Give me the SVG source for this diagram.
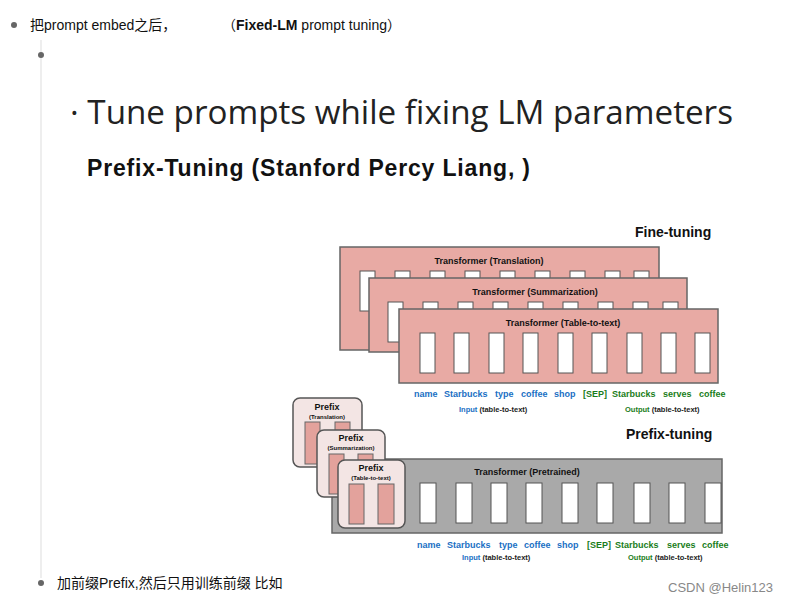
<svg xmlns="http://www.w3.org/2000/svg" width="804" height="602" viewBox="0 0 804 602">
<style>
.t{font-family:"Liberation Sans",Arial,sans-serif}
.cj{font-family:"Liberation Sans","Noto Sans CJK SC",sans-serif;font-size:14px;fill:#111}
.tb{fill:#e8aaa4;stroke:#666;stroke-width:1.5}
.sl{fill:#fff;stroke:#555;stroke-width:1}
.h{font-family:"Liberation Sans",Arial,sans-serif;font-weight:bold;font-size:9px;fill:#111;text-anchor:middle}
.s{font-size:6px}
.w{font-family:"Liberation Sans",Arial,sans-serif;font-weight:bold;font-size:9px}
.b{fill:#1a6fc4}.g{fill:#1a7d1a}
.px{fill:#f3e5e4;stroke:#555;stroke-width:1.5}
.pb{fill:#e3a29c;stroke:#666;stroke-width:1}
</style>
<rect width="804" height="602" fill="#fff"/>
<line x1="41" y1="40" x2="41" y2="578" stroke="#ddd" stroke-width="1"/>
<circle cx="14" cy="25" r="3" fill="#666"/>
<text class="cj" x="30" y="30">把prompt embed之后，</text>
<text class="cj" x="222" y="30">（<tspan font-weight="bold">Fixed-LM</tspan> prompt tuning）</text>
<circle cx="41" cy="55" r="3" fill="#666"/>
<circle cx="41" cy="583" r="3" fill="#666"/>
<text class="cj" x="57" y="588">加前缀Prefix,然后只用训练前缀 比如</text>
<text class="t" x="668" y="592" font-size="13" fill="#888">CSDN @Helin123</text>
<text x="70" y="124" font-size="33" fill="#222" font-family="'Open Sans','Liberation Sans',sans-serif" textLength="663" lengthAdjust="spacingAndGlyphs">· Tune prompts while fixing LM parameters</text>
<text class="t" x="87" y="176" font-size="23" font-weight="bold" fill="#111" textLength="443">Prefix-Tuning (Stanford Percy Liang, )</text>
<text class="t" x="635" y="237" font-size="14" font-weight="bold" fill="#111">Fine-tuning</text>
<g id="ft1"><rect class="tb" x="340" y="247" width="319" height="103"/><text class="h" x="489" y="264">Transformer (Translation)</text>
<g class="sl"><rect x="360" y="271" width="15" height="40"/><rect x="395" y="271" width="15" height="40"/><rect x="430" y="271" width="15" height="40"/><rect x="465" y="271" width="15" height="40"/><rect x="500" y="271" width="15" height="40"/><rect x="535" y="271" width="15" height="40"/><rect x="570" y="271" width="15" height="40"/><rect x="605" y="271" width="15" height="40"/><rect x="634" y="271" width="15" height="40"/></g></g>
<g id="ft2"><rect class="tb" x="369" y="278" width="318" height="74"/><text class="h" x="535" y="295">Transformer (Summarization)</text>
<g class="sl"><rect x="388" y="302" width="15" height="40"/><rect x="423" y="302" width="15" height="40"/><rect x="458" y="302" width="15" height="40"/><rect x="493" y="302" width="15" height="40"/><rect x="528" y="302" width="15" height="40"/><rect x="563" y="302" width="15" height="40"/><rect x="598" y="302" width="15" height="40"/><rect x="633" y="302" width="15" height="40"/><rect x="663" y="302" width="15" height="40"/></g></g>
<g id="ft3"><rect class="tb" x="399" y="309" width="319" height="74"/><text class="h" x="563" y="326">Transformer (Table-to-text)</text>
<g class="sl"><rect x="420" y="333" width="15" height="40"/><rect x="454" y="333" width="15" height="40"/><rect x="489" y="333" width="15" height="40"/><rect x="523" y="333" width="15" height="40"/><rect x="558" y="333" width="15" height="40"/><rect x="592" y="333" width="15" height="40"/><rect x="627" y="333" width="15" height="40"/><rect x="661" y="333" width="15" height="40"/><rect x="695" y="333" width="15" height="40"/></g></g>
<g id="words1"><text class="w b" x="414" y="397">name</text><text class="w b" x="444" y="397">Starbucks</text><text class="w b" x="495" y="397">type</text><text class="w b" x="521" y="397">coffee</text><text class="w b" x="554" y="397">shop</text><text class="w g" x="583" y="397">[SEP]</text><text class="w g" x="612" y="397">Starbucks</text><text class="w g" x="663" y="397">serves</text><text class="w g" x="699" y="397">coffee</text>
<text class="t" x="459" y="412" font-size="7.5" font-weight="bold"><tspan class="b">Input</tspan> <tspan fill="#222">(table-to-text)</tspan></text>
<text class="t" x="625" y="412" font-size="7.5" font-weight="bold"><tspan class="g">Output</tspan> <tspan fill="#222">(table-to-text)</tspan></text></g>
<text class="t" x="626" y="439" font-size="14" font-weight="bold" fill="#111">Prefix-tuning</text>
<g id="pre"><rect x="332" y="459" width="390" height="74" fill="#a9a9a9" stroke="#666" stroke-width="1.5"/><text class="h" x="527" y="475">Transformer  (Pretrained)</text>
<g class="sl"><rect x="420" y="483" width="16" height="40"/><rect x="456" y="483" width="16" height="40"/><rect x="491" y="483" width="16" height="40"/><rect x="526" y="483" width="16" height="40"/><rect x="562" y="483" width="16" height="40"/><rect x="597" y="483" width="16" height="40"/><rect x="634" y="483" width="16" height="40"/><rect x="669" y="483" width="16" height="40"/><rect x="705" y="483" width="16" height="40"/></g></g>
<g id="p1"><rect class="px" x="293" y="398" width="69" height="69" rx="7"/><text class="h" x="327" y="410">Prefix</text><text class="h s" x="327" y="419">(Translation)</text><rect class="pb" x="305" y="422" width="15" height="42"/><rect class="pb" x="335" y="422" width="15" height="42"/></g>
<g id="p2"><rect class="px" x="317" y="430" width="68" height="67" rx="7"/><text class="h" x="351" y="441">Prefix</text><text class="h s" x="351" y="450">(Summarization)</text><rect class="pb" x="329" y="454" width="15" height="40"/><rect class="pb" x="358" y="454" width="15" height="40"/></g>
<g id="p3"><rect class="px" x="338" y="460" width="67" height="68" rx="7"/><text class="h" x="371" y="471">Prefix</text><text class="h s" x="371" y="480">(Table-to-text)</text><rect class="pb" x="349" y="484" width="15" height="40"/><rect class="pb" x="378" y="484" width="16" height="40"/></g>
<g id="words2"><text class="w b" x="417" y="548">name</text><text class="w b" x="447" y="548">Starbucks</text><text class="w b" x="499" y="548">type</text><text class="w b" x="524" y="548">coffee</text><text class="w b" x="557" y="548">shop</text><text class="w g" x="587" y="548">[SEP]</text><text class="w g" x="615" y="548">Starbucks</text><text class="w g" x="667" y="548">serves</text><text class="w g" x="702" y="548">coffee</text>
<text class="t" x="462" y="560" font-size="7.5" font-weight="bold"><tspan class="b">Input</tspan> <tspan fill="#222">(table-to-text)</tspan></text>
<text class="t" x="628" y="560" font-size="7.5" font-weight="bold"><tspan class="g">Output</tspan> <tspan fill="#222">(table-to-text)</tspan></text></g>
<g id="connectors"/>
</svg>
